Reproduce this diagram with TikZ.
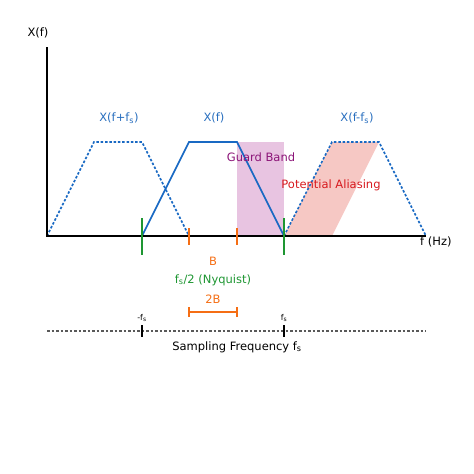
\documentclass[tikz,border=0pt]{standalone}
\usepackage{fontspec}
\setmainfont{DejaVu Sans}
\begin{document}
\begin{tikzpicture}[x=1pt,y=-1pt,
  lbl/.style={font=\fontsize{11.5}{13}\selectfont,inner sep=1pt},
  axisline/.style={line width=1.7pt,black},
  spec/.style={line width=1.6pt,draw=specblue},
  specd/.style={spec,dash pattern=on 2.5pt off 1.8pt},
  gtick/.style={line width=1.5pt,draw=tgreen},
  otick/.style={line width=1.5pt,draw=torange}]
\definecolor{specblue}{RGB}{25,105,195}
\definecolor{lblue}{RGB}{40,110,190}
\definecolor{tgreen}{RGB}{30,150,50}
\definecolor{torange}{RGB}{245,110,20}
\definecolor{gpurple}{RGB}{140,20,120}
\definecolor{ared}{RGB}{215,25,30}
\useasboundingbox (0,0) rectangle (474,474);
% shaded regions
\fill[fill={rgb,255:red,232;green,196;blue,225}] (237,142) rectangle (284,236);
\fill[fill={rgb,255:red,246;green,200;blue,196}] (284,236) -- (332,236) -- (379,142) -- (332,142) -- cycle;
% coordinates
\coordinate (o) at (47,236);
\coordinate (ytop) at (47,47);
\coordinate (xend) at (426,236);
% spectra
\draw[specd] (47,236) -- (94,142) -- (142,142) -- (189,236);
\draw[spec] (142,236) -- (189,142) -- (237,142) -- (284,236);
\draw[specd] (284,236) -- (332,142) -- (379,142) -- (426,236);
% axes
\draw[axisline] (ytop) -- (o) -- (xend);
% ticks
\draw[gtick] (142,218) -- (142,255);
\draw[gtick] (284,218) -- (284,255);
\draw[otick] (189,228) -- (189,245);
\draw[otick] (237,228) -- (237,245);
% labels
\node[lbl] (yl) at (38,33) {X(f)};
\node[lbl,text=lblue] (l1) at (119,118) {X(f+f\textsubscript{s})};
\node[lbl,text=lblue] (l2) at (214,118) {X(f)};
\node[lbl,text=lblue] (l3) at (357,118) {X(f-f\textsubscript{s})};
\node[lbl,text=gpurple] (gb) at (261,157) {Guard Band};
\node[lbl,text=ared] (pa) at (331,185) {Potential Aliasing};
\node[lbl,anchor=west] (fx) at (419,242) {f (Hz)};
\node[lbl,text=torange] (bl) at (213,261) {B};
\node[lbl,text=tgreen] (ny) at (213,280) {f\textsubscript{s}/2 (Nyquist)};
\node[lbl,text=torange] (tb) at (213,299) {2B};
% 2B bracket
\coordinate (ba) at (189,312);
\coordinate (bb) at (237,312);
\draw[otick] (ba) -- (bb);
\draw[otick] (189,307) -- (189,317);
\draw[otick] (237,307) -- (237,317);
% sampling line
\coordinate (sa) at (47,331);
\coordinate (sb) at (426,331);
\draw[gray!70!black,line width=1.1pt,dash pattern=on 2.5pt off 2pt] (sa) -- (sb);
\draw[black,line width=1.5pt] (142,325) -- (142,337);
\draw[black,line width=1.5pt] (284,325) -- (284,337);
\node[font=\fontsize{8}{10}\selectfont,inner sep=1pt] (mfs) at (142,318) {-f\textsubscript{s}};
\node[font=\fontsize{8}{10}\selectfont,inner sep=1pt] (pfs) at (284,318) {f\textsubscript{s}};
\node[lbl] (sf) at (237,347) {Sampling Frequency f\textsubscript{s}};
\end{tikzpicture}
\end{document}
